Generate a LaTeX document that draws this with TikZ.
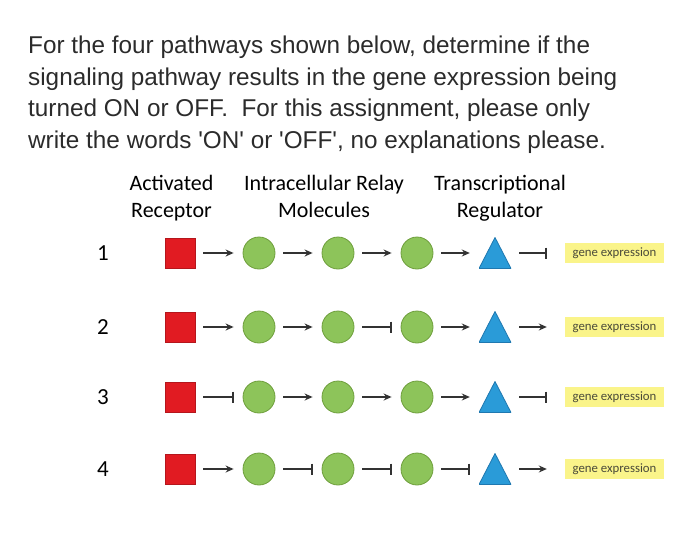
\documentclass[tikz,border=0pt]{standalone}
\usepackage{fontspec}
\setmainfont{Liberation Sans}
\newfontfamily\calib{Carlito}
\usetikzlibrary{arrows.meta,positioning}

\definecolor{recred}{HTML}{E11B22}
\definecolor{recborder}{HTML}{B5161C}
\definecolor{relgreen}{HTML}{8DC45A}
\definecolor{relborder}{HTML}{6E9E3C}
\definecolor{regblue}{HTML}{2A9BD8}
\definecolor{regborder}{HTML}{1F78B0}
\definecolor{geneyellow}{HTML}{FAF48A}
\definecolor{genetext}{HTML}{4A4A3A}
\definecolor{linkgray}{HTML}{333333}
\definecolor{qtext}{HTML}{2B2B2B}

\begin{document}
\begin{tikzpicture}[x=1pt,y=-1pt,node distance=79pt,
                    >={Stealth[length=8pt,width=7pt]}]

  \tikzstyle{receptor}=[rectangle,draw=recborder,fill=recred,line width=0.6pt,
                        minimum size=30pt,inner sep=0pt]
  \tikzstyle{relay}=[circle,draw=relborder,fill=relgreen,line width=0.8pt,
                     minimum size=32pt,inner sep=0pt]
  \tikzstyle{regulator}=[rectangle,minimum width=32pt,minimum height=31pt,inner sep=0pt,
                         path picture={\fill[regblue,draw=regborder,line width=0.8pt]
                           (path picture bounding box.south west) -- (path picture bounding box.south east)
                           -- (path picture bounding box.north) -- cycle;}]
  \tikzstyle{genebox}=[rectangle,fill=geneyellow,minimum width=99pt,minimum height=20pt,
                       inner sep=0pt,text=genetext,font=\calib\fontsize{12.8}{14}\selectfont]
  \tikzstyle{rownum}=[font=\calib\fontsize{23}{27}\selectfont]
  \tikzstyle{head}=[font=\calib\fontsize{22}{27}\selectfont,align=center,anchor=base]
  \tikzstyle{act}=[->,line width=2pt,draw=linkgray,shorten <=8pt,shorten >=9pt]
  \tikzstyle{inh}=[-{Bar[width=11pt]},line width=2pt,draw=linkgray,shorten <=8pt,shorten >=9pt]
  \tikzstyle{togene}=[shorten >=18pt]

  \useasboundingbox (0,0) rectangle (700,543);

  % base of a multi-line node is the last line
  \node[anchor=base west,align=left,text=qtext,inner sep=0pt,
        font=\fontsize{24.3}{31.5}\selectfont] (Q) at (28,148)
    {For the four pathways shown below, determine if the\\
     signaling pathway results in the gene expression being\\
     turned ON or OFF.\ \ For this assignment, please only\\
     write the words \textquotesingle ON\textquotesingle{} or
     \textquotesingle OFF\textquotesingle, no explanations please.};

  \node[head] (HR) at (171.5,217) {Activated\\Receptor};
  \node[head] (HM) at (324,217)   {Intracellular Relay\\Molecules};
  \node[head] (HT) at (500,217)   {Transcriptional\\Regulator};

  % row 1
  \node[rownum]    (N1) at (103,253) {1};
  \node[receptor]  (R1)  [right of=N1,node distance=77pt] {};
  \node[relay]     (M1a) [right of=R1]  {};
  \node[relay]     (M1b) [right of=M1a] {};
  \node[relay]     (M1c) [right of=M1b] {};
  \node[regulator] (T1)  [right of=M1c,node distance=78pt] {};
  \node[genebox]   (G1)  [right of=T1,node distance=119.5pt] {gene expression};

  % row 2
  \node[rownum]    (N2) at (103,327) {2};
  \node[receptor]  (R2)  [right of=N2,node distance=77pt] {};
  \node[relay]     (M2a) [right of=R2]  {};
  \node[relay]     (M2b) [right of=M2a] {};
  \node[relay]     (M2c) [right of=M2b] {};
  \node[regulator] (T2)  [right of=M2c,node distance=78pt] {};
  \node[genebox]   (G2)  [right of=T2,node distance=119.5pt] {gene expression};

  % row 3
  \node[rownum]    (N3) at (103,397) {3};
  \node[receptor]  (R3)  [right of=N3,node distance=77pt] {};
  \node[relay]     (M3a) [right of=R3]  {};
  \node[relay]     (M3b) [right of=M3a] {};
  \node[relay]     (M3c) [right of=M3b] {};
  \node[regulator] (T3)  [right of=M3c,node distance=78pt] {};
  \node[genebox]   (G3)  [right of=T3,node distance=119.5pt] {gene expression};

  % row 4
  \node[rownum]    (N4) at (103,469) {4};
  \node[receptor]  (R4)  [right of=N4,node distance=77pt] {};
  \node[relay]     (M4a) [right of=R4]  {};
  \node[relay]     (M4b) [right of=M4a] {};
  \node[relay]     (M4c) [right of=M4b] {};
  \node[regulator] (T4)  [right of=M4c,node distance=78pt] {};
  \node[genebox]   (G4)  [right of=T4,node distance=119.5pt] {gene expression};

  \path
  (R1)  edge [act] (M1a)
  (M1a) edge [act] (M1b)
  (M1b) edge [act] (M1c)
  (M1c) edge [act] (T1)
  (T1)  edge [inh,togene] (G1)

  (R2)  edge [act] (M2a)
  (M2a) edge [act] (M2b)
  (M2b) edge [inh] (M2c)
  (M2c) edge [act] (T2)
  (T2)  edge [act,togene] (G2)

  (R3)  edge [inh] (M3a)
  (M3a) edge [act] (M3b)
  (M3b) edge [act] (M3c)
  (M3c) edge [act] (T3)
  (T3)  edge [inh,togene] (G3)

  (R4)  edge [act] (M4a)
  (M4a) edge [inh] (M4b)
  (M4b) edge [inh] (M4c)
  (M4c) edge [inh] (T4)
  (T4)  edge [act,togene] (G4)
  ;
\end{tikzpicture}
\end{document}
